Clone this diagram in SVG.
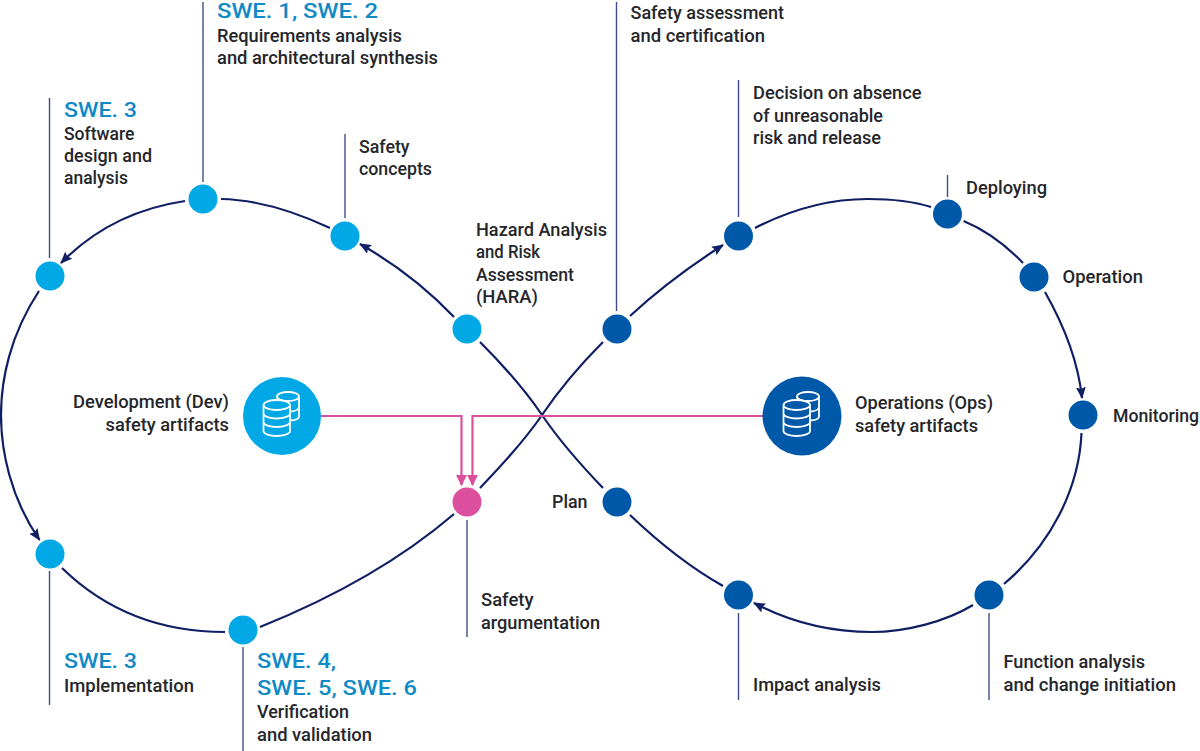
<svg xmlns="http://www.w3.org/2000/svg" xmlns:xlink="http://www.w3.org/1999/xlink" width="1200" height="751" viewBox="0 0 1200 751">
<style>
text{font-family:"Roboto","Liberation Sans",Arial,sans-serif;font-weight:500;font-size:18px;fill:#25262b}
text.swe{font-size:21px;fill:#0f8ac6}
.loop{fill:none;stroke:#101f63;stroke-width:2.2}
.arrow{marker-end:url(#navyHead)}
.lead{fill:none;stroke:#3f4d87;stroke-width:1.4}
.pink{fill:none;stroke:#da509f;stroke-width:2.2;marker-end:url(#pinkHead)}
.light{fill:#00a9e6}
.dark{fill:#0058a8}
.mag{fill:#dc4f9f}
.db{fill:none;stroke:#fff;stroke-width:1.8}
</style>
<defs>
<marker id="navyHead" viewBox="0 0 12 10" refX="11" refY="5" markerUnits="userSpaceOnUse" markerWidth="12" markerHeight="10" orient="auto"><path d="M0,0L12,5L0,10L2,5Z" fill="#101f63"/></marker>
<marker id="pinkHead" viewBox="0 0 10 10" refX="9" refY="5" markerUnits="userSpaceOnUse" markerWidth="11" markerHeight="11" orient="auto"><path d="M0,0L10,5L0,10Z" fill="#da509f"/></marker>
<g id="dbIcon">
<path class="db" d="M-5,-17.5V-19.5C-5,-22.2 0,-24 6,-24C12,-24 17,-22.2 17,-19.5V0.5C17,2.5 14,4 9,4.5M-5,-19.5C-5,-16.8 0,-15 6,-15C12,-15 17,-16.8 17,-19.5M9,-4.5C13,-4.8 17,-6.5 17,-9"/>
<path class="db" d="M-18.5,-11C-18.5,-14 -12,-16 -5.5,-16C1,-16 8,-14 8,-11V15C8,18 1,20 -5.5,20C-12,20 -18.5,18 -18.5,15ZM-18.5,-11C-18.5,-8 -12,-6 -5.5,-6C1,-6 8,-8 8,-11M-18.5,-2.5C-18.5,0.5 -12,2.5 -5.5,2.5C1,2.5 8,0.5 8,-2.5M-18.5,6C-18.5,9 -12,11 -5.5,11C1,11 8,9 8,6"/>
</g>
</defs>

<g id="connectors">
<path class="loop arrow" d="M454,317Q413,274 360,244"/>
<path class="loop" d="M330,228Q270,200 221,199"/>
<path class="loop arrow" d="M185,201Q111,212 61,263"/>
<path class="loop arrow" d="M39,291C10,335 1,380 1,415C1,450 10,497 39.5,540"/>
<path class="loop" d="M62,568C105,610 160,632 225,632"/>
<path class="loop" d="M260,627Q377,580 454,514"/>
<path class="loop" d="M480,488C505,462 525,440 542,415C559,390 580,365 603,342"/>
<path class="loop arrow" d="M630,316Q670,279 723,245"/>
<path class="loop" d="M755,228C790,210 830,199 868,199C890,199 912,201 931,207"/>
<path class="loop" d="M963.6,221Q995,234 1023,263"/>
<path class="loop arrow" d="M1045,292C1062,322 1078,360 1082,398"/>
<path class="loop" d="M1081.5,433C1079,490 1050,545 1004,584"/>
<path class="loop arrow" d="M973,605C945,622 905,632 872,632C830,632 790,622 754,603"/>
<path class="loop" d="M723,586Q677,560 630,515"/>
<path class="loop" d="M603,488C578,462 559,440 542,415C525,390 503,365 480,342"/>
<path class="lead" d="M203,2V182"/>
<path class="lead" d="M49.5,98V258"/>
<path class="lead" d="M345,134V218"/>
<path class="lead" d="M616.5,2V311"/>
<path class="lead" d="M738.5,80V217"/>
<path class="lead" d="M947.5,175V197"/>
<path class="lead" d="M49.5,571V705"/>
<path class="lead" d="M243,647V751"/>
<path class="lead" d="M467,520V637"/>
<path class="lead" d="M738.5,613V700"/>
<path class="lead" d="M989,613V700"/>
<path class="pink" d="M321,416H461.5V485"/>
<path class="pink" d="M763,416H472.5V485"/>
</g>

<g id="node-hara"><circle class="light" cx="467" cy="329" r="14.5"/>
<text x="476" y="235.5" textLength="131" lengthAdjust="spacingAndGlyphs">Hazard Analysis</text>
<text x="476" y="258" textLength="64" lengthAdjust="spacingAndGlyphs">and Risk</text>
<text x="476" y="280.5" textLength="98" lengthAdjust="spacingAndGlyphs">Assessment</text>
<text x="476" y="303" textLength="62" lengthAdjust="spacingAndGlyphs">(HARA)</text></g>
<g id="node-safety-concepts"><circle class="light" cx="345" cy="236" r="14.5"/>
<text x="359" y="153" textLength="50.5" lengthAdjust="spacingAndGlyphs">Safety</text>
<text x="359" y="175" textLength="73" lengthAdjust="spacingAndGlyphs">concepts</text></g>
<g id="node-swe12"><circle class="light" cx="203" cy="199" r="14.5"/>
<text class="swe" x="217" y="18" textLength="161" lengthAdjust="spacingAndGlyphs">SWE. 1, SWE. 2</text>
<text x="217" y="41.5" textLength="185" lengthAdjust="spacingAndGlyphs">Requirements analysis</text>
<text x="217" y="64" textLength="221" lengthAdjust="spacingAndGlyphs">and architectural synthesis</text></g>
<g id="node-swe3-design"><circle class="light" cx="50" cy="276" r="14.5"/>
<text class="swe" x="64" y="116.5" textLength="73" lengthAdjust="spacingAndGlyphs">SWE. 3</text>
<text x="64" y="139.5" textLength="70.5" lengthAdjust="spacingAndGlyphs">Software</text>
<text x="64" y="162" textLength="88" lengthAdjust="spacingAndGlyphs">design and</text>
<text x="64" y="184" textLength="64" lengthAdjust="spacingAndGlyphs">analysis</text></g>
<g id="node-swe3-impl"><circle class="light" cx="50" cy="554" r="14.5"/>
<text class="swe" x="64" y="668" textLength="73" lengthAdjust="spacingAndGlyphs">SWE. 3</text>
<text x="64" y="692" textLength="130" lengthAdjust="spacingAndGlyphs">Implementation</text></g>
<g id="node-swe456"><circle class="light" cx="243" cy="630" r="14.5"/>
<text class="swe" x="257" y="668" textLength="79" lengthAdjust="spacingAndGlyphs">SWE. 4,</text>
<text class="swe" x="257" y="695" textLength="160" lengthAdjust="spacingAndGlyphs">SWE. 5, SWE. 6</text>
<text x="257" y="718" textLength="92" lengthAdjust="spacingAndGlyphs">Verification</text>
<text x="257" y="741" textLength="115" lengthAdjust="spacingAndGlyphs">and validation</text></g>
<g id="node-safety-argumentation"><circle class="mag" cx="467" cy="502" r="14.5"/>
<text x="481" y="606" textLength="52.5" lengthAdjust="spacingAndGlyphs">Safety</text>
<text x="481" y="628.5" textLength="119" lengthAdjust="spacingAndGlyphs">argumentation</text></g>
<g id="node-dev-artifacts"><circle class="light" cx="282" cy="416" r="39"/><use xlink:href="#dbIcon" href="#dbIcon" x="282" y="416"/>
<text x="73" y="408" textLength="156" lengthAdjust="spacingAndGlyphs">Development (Dev)</text>
<text x="105.5" y="431" textLength="123.5" lengthAdjust="spacingAndGlyphs">safety artifacts</text></g>
<g id="node-ops-artifacts"><circle class="dark" cx="802" cy="416" r="39.5"/><use xlink:href="#dbIcon" href="#dbIcon" x="802" y="416"/>
<text x="855" y="409" textLength="138" lengthAdjust="spacingAndGlyphs">Operations (Ops)</text>
<text x="855" y="432" textLength="123" lengthAdjust="spacingAndGlyphs">safety artifacts</text></g>
<g id="node-safety-assessment"><circle class="dark" cx="617" cy="329" r="14.5"/>
<text x="630.5" y="18.5" textLength="153.5" lengthAdjust="spacingAndGlyphs">Safety assessment</text>
<text x="630.5" y="41.5" textLength="134.5" lengthAdjust="spacingAndGlyphs">and certification</text></g>
<g id="node-decision"><circle class="dark" cx="738.5" cy="236" r="14.5"/>
<text x="753" y="99" textLength="168.5" lengthAdjust="spacingAndGlyphs">Decision on absence</text>
<text x="753" y="121.5" textLength="130" lengthAdjust="spacingAndGlyphs">of unreasonable</text>
<text x="753" y="144" textLength="128" lengthAdjust="spacingAndGlyphs">risk and release</text></g>
<g id="node-deploying"><circle class="dark" cx="947.5" cy="214" r="14.5"/>
<text x="966" y="194" textLength="81" lengthAdjust="spacingAndGlyphs">Deploying</text></g>
<g id="node-operation"><circle class="dark" cx="1034" cy="277" r="14.5"/>
<text x="1062.5" y="283" textLength="80.5" lengthAdjust="spacingAndGlyphs">Operation</text></g>
<g id="node-monitoring"><circle class="dark" cx="1083" cy="415" r="14.5"/>
<text x="1113" y="422" textLength="86" lengthAdjust="spacingAndGlyphs">Monitoring</text></g>
<g id="node-function-analysis"><circle class="dark" cx="989" cy="595" r="14.5"/>
<text x="1003.5" y="668" textLength="141.5" lengthAdjust="spacingAndGlyphs">Function analysis</text>
<text x="1003.5" y="691" textLength="172.5" lengthAdjust="spacingAndGlyphs">and change initiation</text></g>
<g id="node-impact-analysis"><circle class="dark" cx="738.5" cy="595" r="14.5"/>
<text x="753" y="691" textLength="128" lengthAdjust="spacingAndGlyphs">Impact analysis</text></g>
<g id="node-plan"><circle class="dark" cx="617" cy="502" r="14.5"/>
<text x="552" y="508" textLength="35.5" lengthAdjust="spacingAndGlyphs">Plan</text></g>
</svg>
